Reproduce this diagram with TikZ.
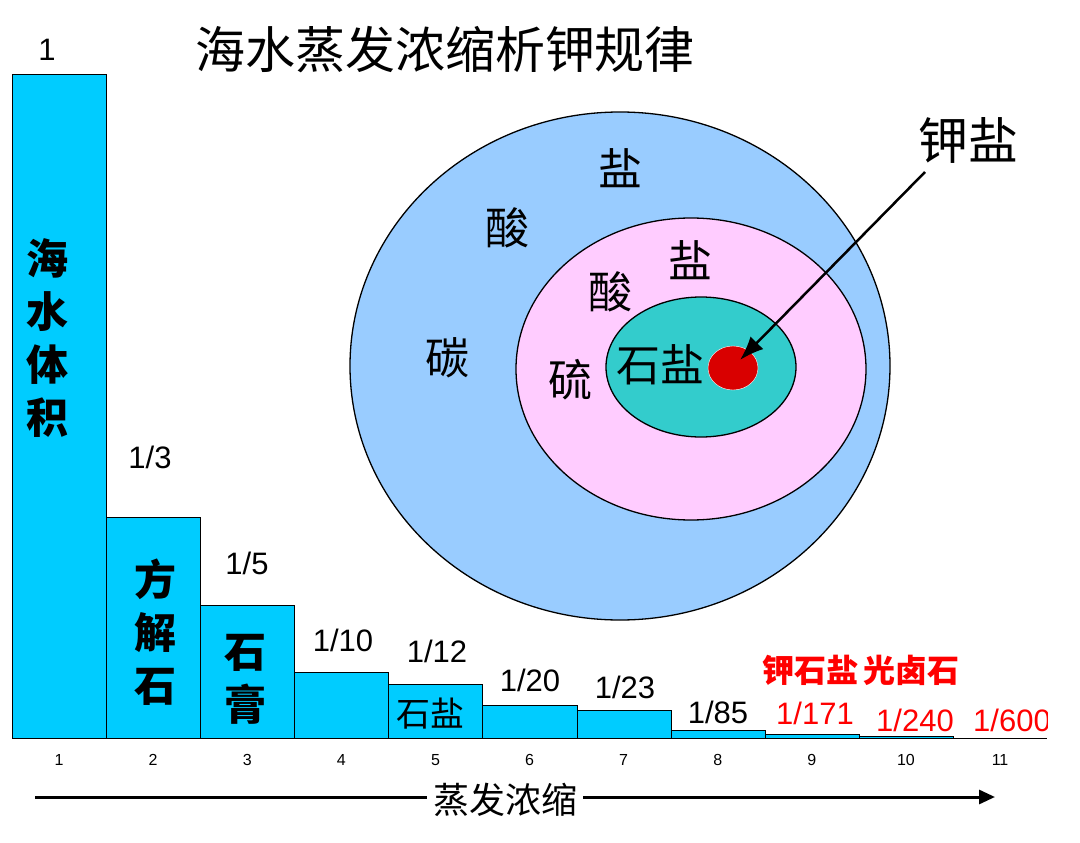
\documentclass[tikz,border=0pt]{standalone}
\usepackage{fontspec}
\setmainfont{Liberation Sans}
\newfontfamily\cjk{Noto Sans CJK SC}
\usetikzlibrary{arrows.meta}
\definecolor{barc}{HTML}{00CCFF}
\definecolor{outc}{HTML}{99CCFF}
\definecolor{pinkc}{HTML}{FFCCFF}
\definecolor{tealc}{HTML}{33CCCC}
\begin{document}
\begin{tikzpicture}[x=1pt,y=-1pt,
  bar/.style={draw=black,fill=barc,line width=1pt},
  ell/.style={draw=black,line width=1.3pt},
  zh/.style={font=\cjk\fontsize{44}{46}\selectfont},
  zhb/.style={font=\cjk\bfseries\fontsize{42}{53}\selectfont,align=center},
  val/.style={font=\fontsize{31}{33}\selectfont},
  rval/.style={font=\fontsize{31}{33}\selectfont,text=red},
  ax/.style={font=\fontsize{16}{18}\selectfont}]
\useasboundingbox (0,0) rectangle (1080,843);
% bars
\foreach \a/\b/\t in {12/106/75,106/200/517,200/294/605,294/388/672,388/482/684,482/577/705,577/671/710,671/765/730,765/859/734,859/953/736}
  \draw[bar] (\a,738) rectangle (\b,\t);
\draw[line width=1pt] (953,738) -- (1047,738);
% ellipses
\draw[ell,fill=outc] (620,366) ellipse [x radius=270, y radius=254];
\draw[ell,fill=pinkc] (691,369) ellipse [x radius=175, y radius=151];
\draw[ell,fill=tealc] (701,367) ellipse [x radius=95, y radius=70];
\draw[fill=red!85!black,draw=white] (733,368) ellipse [x radius=25, y radius=22];
\node[zh,font=\cjk\fontsize{50}{52}\selectfont] (k) at (968,140) {钾盐};
\coordinate (ks) at (925,172);
\coordinate (kc) at (740,360);
\draw[line width=2.5pt,-{Latex[length=24pt,width=18pt]}] (ks) -- (kc);
\node[zh] (o1) at (620,168) {盐};
\node[zh] (o2) at (507,228) {酸};
\node[zh] (o3) at (447,358) {碳};
\node[zh] (p1) at (690,260) {盐};
\node[zh] (p2) at (610,292) {酸};
\node[zh] (p3) at (570,380) {硫};
\node[zh] (t1) at (660,365) {石盐};
% title
\node[zh,font=\cjk\fontsize{50}{52}\selectfont] (title) at (445,50) {海水蒸发浓缩析钾规律};
% bar labels
\node[zhb] (b1) at (48,338) {海\\水\\体\\积};
\node[zhb] (b2) at (155,632) {方\\解\\石};
\node[zhb] (b3) at (245,679) {石\\膏};
\node[zh,font=\cjk\fontsize{34}{36}\selectfont] (b5) at (430,714) {石盐};
\node[val] (v1) at (47,50) {1};
\node[val] (v2) at (150,457) {1/3};
\node[val] (v3) at (247,563) {1/5};
\node[val] (v4) at (343,640) {1/10};
\node[val] (v5) at (437,651) {1/12};
\node[val] (v6) at (530,680) {1/20};
\node[val] (v7) at (625,687) {1/23};
\node[val] (v8) at (718,712) {1/85};
\node[rval] (v9) at (815,713) {1/171};
\node[rval] (v10) at (915,720) {1/240};
\begin{scope}
\clip (953,690) rectangle (1047,740);
\node[rval,anchor=west,inner xsep=0pt] (v11) at (973,720) {1/600};
\end{scope}
\node[font=\cjk\bfseries\fontsize{32}{34}\selectfont,text=red] (kl) at (861,670) {钾石盐\,光卤石};
% axis numbers
\foreach \i in {1,...,11}
  \node[ax] (n\i) at ({12+94.1*(\i-0.5)},760) {\i};
% process arrow
\coordinate (s) at (35,797);
\coordinate (e) at (995,797);
\draw[line width=3pt,-{Triangle[length=16pt,width=14pt]}] (s) -- (e);
\node[zh,font=\cjk\fontsize{36}{38}\selectfont,fill=white,inner xsep=6pt] (ev) at (505,800) {蒸发浓缩};
\end{tikzpicture}
\end{document}
